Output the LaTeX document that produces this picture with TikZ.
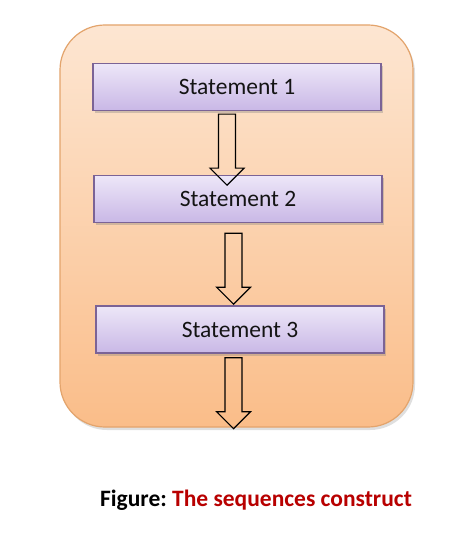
\documentclass[tikz,border=0pt]{standalone}
\usepackage{fontspec}
\setmainfont{Carlito}
\usetikzlibrary{shadows,calc}
\frenchspacing
\definecolor{peachtop}{HTML}{FDE6D2}
\definecolor{peachmid}{HTML}{FCD0AA}
\definecolor{peachbot}{HTML}{FABD89}
\definecolor{peachline}{HTML}{E3A46C}
\definecolor{lavtop}{HTML}{EDE7F8}
\definecolor{lavbot}{HTML}{C9B8E6}
\definecolor{lavline}{HTML}{7B6396}
\definecolor{capred}{HTML}{B80000}
\tikzset{
  x=1pt,y=-1pt,
  outerbox/.style={draw=peachline,line width=1.2pt,rounded corners=45pt,
    top color=peachtop,middle color=peachmid,bottom color=peachbot,
    drop shadow={shadow xshift=2pt,shadow yshift=-3pt,opacity=0.25,fill=gray}},
  stmt/.style={draw=lavline,line width=1.3pt,top color=lavtop,bottom color=lavbot,
    minimum width=288pt,minimum height=47pt,inner sep=0pt,
    font=\fontsize{23.5}{27}\selectfont,text=black!92,
    drop shadow={shadow xshift=2pt,shadow yshift=-2.5pt,opacity=0.35,fill=gray}},
  arrowline/.style={draw=black,line width=1.2pt,line join=miter},
  hollow arrow/.pic={
    \draw[arrowline] (-8.5,0) -- (-8.5,54) -- (-17,54) -- (0,71) -- (17,54)
      -- (8.5,54) -- (8.5,0) -- cycle;
  }
}
\begin{document}
\begin{tikzpicture}
\useasboundingbox (0,0) rectangle (469,548);
\fill[white] (0,0) rectangle (469,548);
\draw[outerbox] (60,25) rectangle (413,427);
\node[stmt] (s1) at (237,87) {Statement 1};
\node[stmt] (s2) at (238,199) {Statement 2};
\node[stmt] (s3) at (240,329.5) {Statement 3};
\pic at ($(s1.south)+(-10,3)$) {hollow arrow};
\pic at ($(s2.south)+(-4.5,10)$) {hollow arrow};
\pic at ($(s3.south)+(-6.5,4)$) {hollow arrow};
\node[anchor=base,font=\bfseries\fontsize{23.5}{27}\selectfont,inner sep=0pt] (cap) at (256,506)
  {Figure: \textcolor{capred}{The sequences construct}};
\end{tikzpicture}
\end{document}
